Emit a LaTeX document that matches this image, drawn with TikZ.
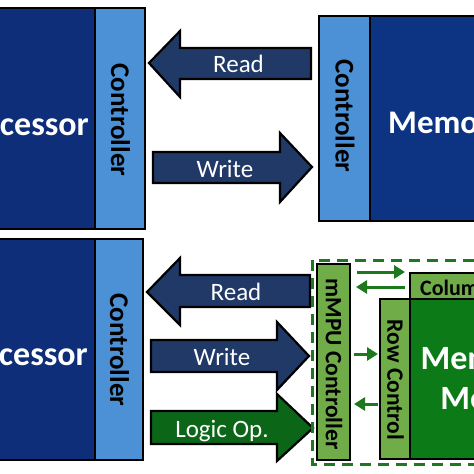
\documentclass[tikz,border=0pt]{standalone}
\usepackage{fontspec}
\setmainfont{Carlito}
\usetikzlibrary{arrows.meta}
\definecolor{procblue}{RGB}{14,46,122}
\definecolor{memblue}{RGB}{12,52,130}
\definecolor{ctlblue}{RGB}{76,145,214}
\definecolor{arrblue}{RGB}{33,57,102}
\definecolor{arrgreen}{RGB}{12,102,24}
\definecolor{modgreen}{RGB}{12,122,22}
\definecolor{ltgreen}{RGB}{112,172,72}
\definecolor{dashgreen}{RGB}{30,120,30}
\begin{document}
\begin{tikzpicture}[x=1pt,y=-1pt,
  blk/.style={draw=black, line width=2pt, rectangle, inner sep=0pt, outer sep=0pt, anchor=north west},
  barrow/.style={draw=black, line width=2.2pt, line join=miter},
  lbl/.style={text=white, font=\fontsize{25}{30}\selectfont, inner sep=0pt, anchor=base},
  ctl/.style={text=black, font=\bfseries\fontsize{27}{30}\selectfont, rotate=-90, inner sep=0pt},
  sctl/.style={text=black, font=\bfseries\fontsize{23.5}{28}\selectfont, rotate=-90, inner sep=0pt},
  big/.style={text=white, font=\bfseries\fontsize{34}{40}\selectfont, inner sep=0pt},
  sarr/.style={draw=dashgreen, line width=3pt, -{Triangle[length=11pt,width=13pt]}}]
\useasboundingbox (0,0) rectangle (474,474);
\clip (0,0) rectangle (474,474);
\fill[white] (0,0) rectangle (474,474);

% ---------- top: processor ----------
\node[blk, fill=procblue, minimum width=105pt, minimum height=221pt] (proc1) at (-10,8) {};
\node[blk, fill=ctlblue, minimum width=50pt, minimum height=221pt] (pctl1) at (95,8) {};
\node[big, anchor=base east] (ptext1) at (89,135) {Processor};
\node[ctl] (pctltext1) at (120.5,120) {Controller};

% ---------- top: memory ----------
\node[blk, fill=ctlblue, minimum width=51pt, minimum height=205pt] (mctl1) at (319,16) {};
\node[blk, fill=memblue, minimum width=130pt, minimum height=205pt] (mem1) at (370,16) {};
\node[big, anchor=base west, font=\bfseries\fontsize{33}{40}\selectfont] (mtext1) at (388,133) {Memory};
\node[ctl] (mctltext1) at (345,116) {Controller};

% ---------- top arrows ----------
\draw[barrow, fill=arrblue] (149,63) -- (180,31) -- (180,48) -- (311,48) -- (311,79) -- (180,79) -- (180,97) -- cycle;
\node[lbl] (read1) at (238.5,72) {Read};
\draw[barrow, fill=arrblue] (312,167) -- (280,133) -- (280,152) -- (153,152) -- (153,183) -- (280,183) -- (280,202) -- cycle;
\node[lbl] (write1) at (225,177) {Write};

% ---------- bottom: processor ----------
\node[blk, fill=procblue, minimum width=105pt, minimum height=221pt] (proc2) at (-10,239) {};
\node[blk, fill=ctlblue, minimum width=48pt, minimum height=221pt] (pctl2) at (95,239) {};
\node[big, anchor=base east] (ptext2) at (88,365) {Processor};
\node[ctl] (pctltext2) at (119.5,350) {Controller};

% ---------- bottom arrows ----------
\draw[barrow, fill=arrblue] (147,292) -- (180,258) -- (180,275) -- (310,275) -- (310,307) -- (180,307) -- (180,325) -- cycle;
\node[lbl] (read2) at (236,300) {Read};
\draw[barrow, fill=arrblue] (309,356) -- (277,322) -- (277,340) -- (151,340) -- (151,372) -- (277,372) -- (277,390) -- cycle;
\node[lbl] (write2) at (222,365) {Write};
\draw[barrow, fill=arrgreen] (313,428) -- (277,394) -- (277,411) -- (151,411) -- (151,444) -- (277,444) -- (277,461) -- cycle;
\node[lbl] (logic) at (222,437) {Logic Op.};

% ---------- bottom: mMPU ----------
\draw[draw=dashgreen, line width=3pt, dash pattern=on 11pt off 7pt] (312,260) rectangle (495,464);
\node[blk, fill=ltgreen, minimum width=33pt, minimum height=196pt] (mmpu) at (317,264) {};
\node[sctl] (mmputext) at (334,364) {mMPU Controller};
\node[blk, fill=ltgreen, minimum width=90pt, minimum height=26pt] (colctl) at (410,273) {};
\node[text=black, font=\bfseries\fontsize{22}{26}\selectfont, inner sep=0pt, anchor=base west] (coltext) at (420,295) {Column Control};
\node[blk, fill=ltgreen, minimum width=30pt, minimum height=160pt] (rowctl) at (380,299) {};
\node[sctl] (rowtext) at (395.5,380) {Row Control};
\node[blk, fill=modgreen, minimum width=90pt, minimum height=160pt] (module) at (410,299) {};
\node[big, anchor=base] (modtext1) at (501,369) {Memristive};
\node[big, anchor=base] (modtext2) at (501,409) {Memory};

% small arrows
\coordinate (a1s) at (357,272); \coordinate (a1e) at (405,272);
\coordinate (a2s) at (405,287); \coordinate (a2e) at (356,287);
\coordinate (a3s) at (354,354); \coordinate (a3e) at (378,354);
\coordinate (a4s) at (378,404); \coordinate (a4e) at (354,404);
\draw[sarr] (a1s) -- (a1e);
\draw[sarr] (a2s) -- (a2e);
\draw[sarr] (a3s) -- (a3e);
\draw[sarr] (a4s) -- (a4e);
\end{tikzpicture}
\end{document}
